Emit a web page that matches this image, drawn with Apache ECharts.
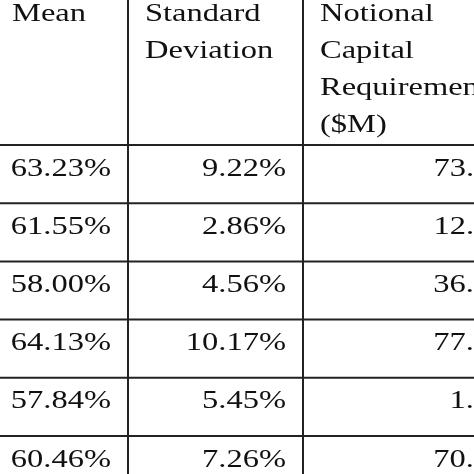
<!DOCTYPE html>
<html><head><meta charset="utf-8">
<script src="https://cdn.jsdelivr.net/npm/echarts@6/dist/echarts.min.js"></script>
<style>html,body{margin:0;padding:0;background:#fff}#c{width:474px;height:474px}</style>
</head><body><div id="c"></div>
<script>
var headers = [["Mean"], ["Standard", "Deviation"], ["Notional", "Capital", "Requirement", "($M)"]];
var means = ["63.23%", "61.55%", "58.00%", "64.13%", "57.84%", "60.46%"];
var stdDevs = ["9.22%", "2.86%", "4.56%", "10.17%", "5.45%", "7.26%"];
var capital = ["73.", "12.", "36.3", "77.1", "1.8", "70.3"];

var chart = echarts.init(document.getElementById('c'));
var els = [];
var font = '25px "Liberation Serif", "Times New Roman", serif';
function txt(s, x, y, align) {
  els.push({type:'text', x:x, y:y, scaleX:1.3, scaleY:1,
    style:{text:s, font:font, fill:'#111', align:align, verticalAlign:'middle'}});
}
function line(x1,y1,x2,y2){
  els.push({type:'line', shape:{x1:x1,y1:y1,x2:x2,y2:y2}, style:{stroke:'#222', lineWidth:2}});
}
var colX = [128, 303];
var rowTop = 145, rowH = 58.2;
colX.forEach(function(x){ line(x,0,x,474); });
for (var i=0;i<means.length;i++) line(0, rowTop+i*rowH, 474, rowTop+i*rowH);
var hx = [12, 145, 320];
headers.forEach(function(h,c){ h.forEach(function(s,j){ txt(s, hx[c], 14+j*37, 'left'); }); });
for (var i=0;i<means.length;i++){
  var y = rowTop + i*rowH + 24;
  txt(means[i], 111, y, 'right');
  txt(stdDevs[i], 286, y, 'right');
  txt(capital[i], i===0||i===1 ? 474 : 490, y, 'right');
}
chart.setOption({animation:false, graphic:{elements:els}});
</script></body></html>
